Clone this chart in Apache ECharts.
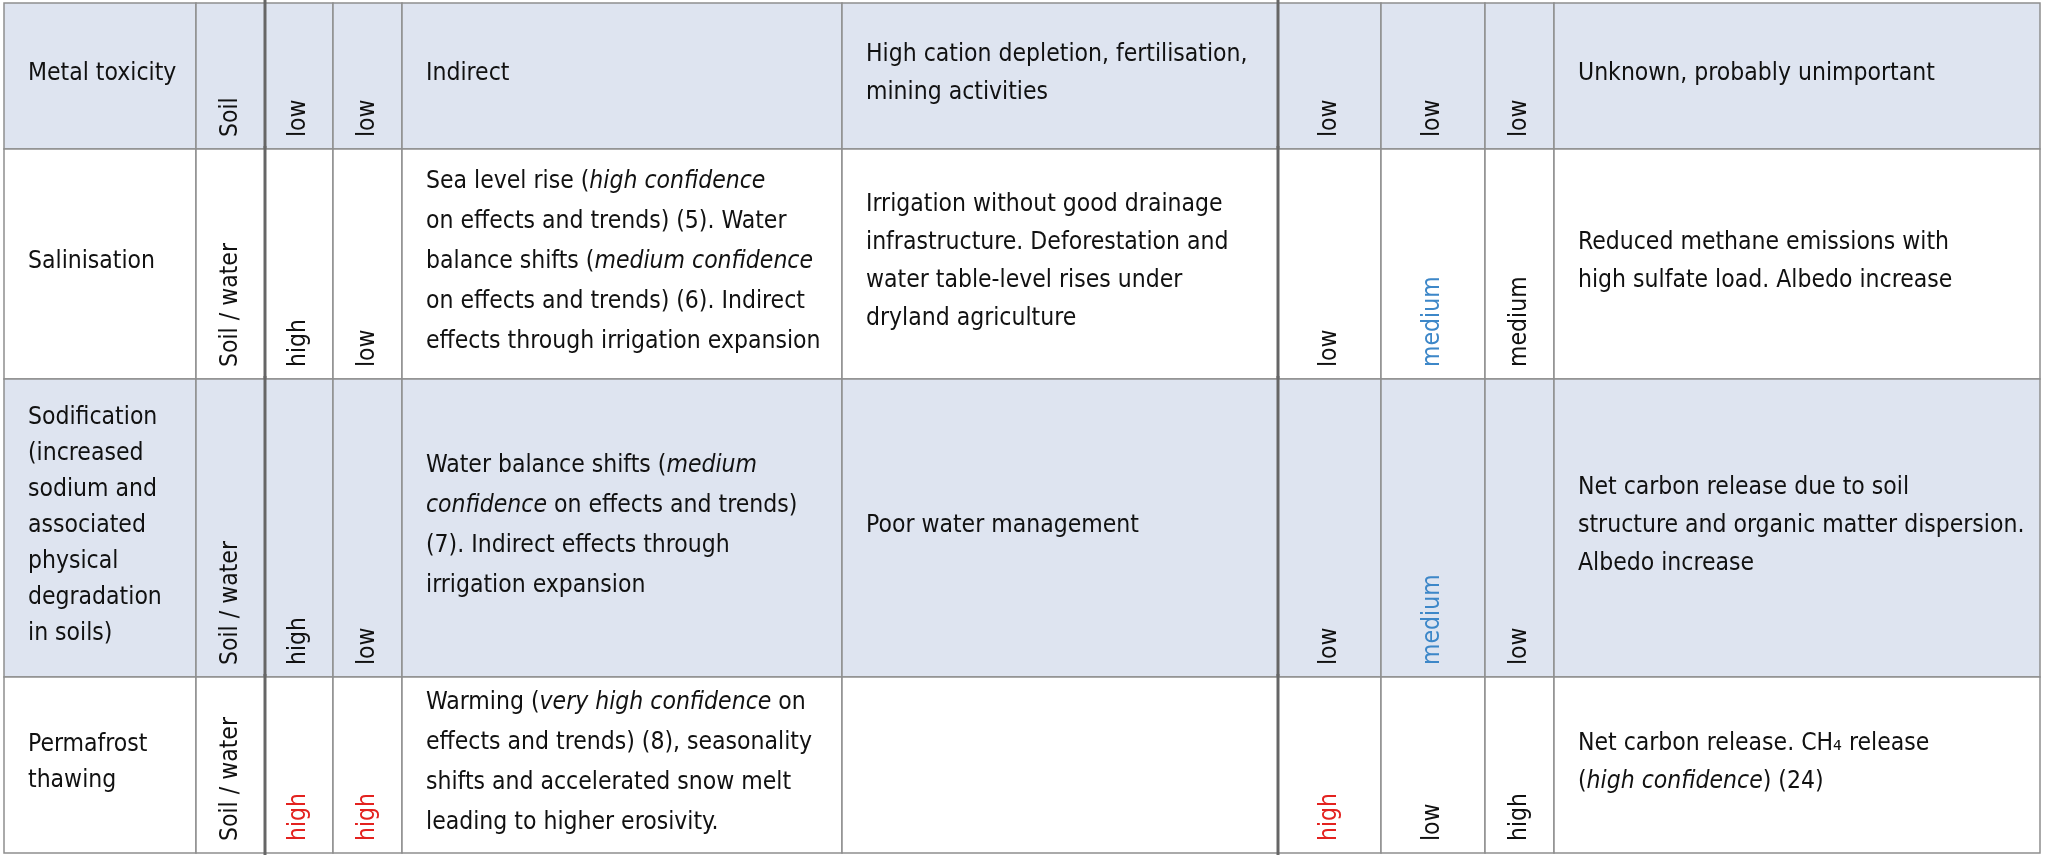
<!DOCTYPE html>
<html><head><meta charset="utf-8">
<script src="https://cdn.jsdelivr.net/npm/echarts@6/dist/echarts.min.js"></script>
<style>html,body{margin:0;padding:0;background:#fff}#c{width:2048px;height:855px}</style>
</head><body><div id="c"></div>
<script>
// ---- data ----
const impacts = ["Metal toxicity", "Salinisation", "Sodification\n(increased\nsodium and\nassociated\nphysical\ndegradation\nin soils)", "Permafrost\nthawing"];
const medium = ["Soil", "Soil / water", "Soil / water", "Soil / water"];
const ratingA = ["low", "high", "high", "high"];
const ratingB = ["low", "low", "low", "high"];
const climateDrivers = [
  "Indirect",
  "Sea level rise ({i|high confidence}\non effects and trends) (5). Water\nbalance shifts ({i|medium confidence}\non effects and trends) (6). Indirect\neffects through irrigation expansion",
  "Water balance shifts ({i|medium}\n{i|confidence} on effects and trends)\n(7). Indirect effects through\nirrigation expansion",
  "Warming ({i|very high confidence} on\neffects and trends) (8), seasonality\nshifts and accelerated snow melt\nleading to higher erosivity."
];
const humanDrivers = [
  "High cation depletion, fertilisation,\nmining activities",
  "Irrigation without good drainage\ninfrastructure. Deforestation and\nwater table-level rises under\ndryland agriculture",
  "Poor water management",
  ""
];
const ratingC = ["low", "low", "low", "high"];
const ratingD = ["low", "medium", "medium", "low"];
const ratingE = ["low", "medium", "low", "high"];
const feedbacks = [
  "Unknown, probably unimportant",
  "Reduced methane emissions with\nhigh sulfate load. Albedo increase",
  "Net carbon release due to soil\nstructure and organic matter dispersion.\nAlbedo increase",
  "Net carbon release. CH₄ release\n({i|high confidence}) (24)"
];
const highlight = {"3-2":"r","3-3":"r","3-6":"r","1-7":"b","2-7":"b"};

// ---- layout ----
const colEdges = [4,196,265,333,402,842,1278,1381,1485,1554,2040];
const rowEdges = [3,149,379,677,853];
const columns = [impacts, medium, ratingA, ratingB, climateDrivers, humanDrivers, ratingC, ratingD, ratingE, feedbacks];
const vertical = [false,true,true,true,false,false,true,true,true,false];
const lineH = [36,0,0,0,40,38,0,0,0,38];
const rowBg = ['#dee4f0','#ffffff','#dee4f0','#ffffff'];
const FONT = "'Liberation Sans Narrow','DejaVu Sans Condensed',sans-serif";
const FS = 24.5;

const cells = [];
for (let r = 0; r < impacts.length; r++) for (let c = 0; c < columns.length; c++) cells.push([c, r]);

function renderItem(params, api) {
  const c = api.value(0), r = api.value(1);
  const p0 = api.coord([colEdges[c], rowEdges[r]]);
  const p1 = api.coord([colEdges[c+1], rowEdges[r+1]]);
  const w = p1[0]-p0[0], h = p1[1]-p0[1];
  const txt = columns[c][r];
  const flag = highlight[r+'-'+c];
  const fill = flag === 'r' ? '#e3221f' : flag === 'b' ? '#3d87c8' : '#111';
  const children = [{
    type:'rect', shape:{x:p0[0],y:p0[1],width:w,height:h},
    style:{fill:rowBg[r], stroke:'#8e8e8e', lineWidth:1.5}
  }];
  if (vertical[c]) {
    children.push({type:'text', x:p0[0]+w/2, y:p1[1]-12, rotation:Math.PI/2,
      style:{text:txt, fill:fill, font:FS+'px '+FONT, align:'left', verticalAlign:'middle'}});
  } else if (txt) {
    const lh = lineH[c];
    children.push({type:'text', x:p0[0]+24, y:p0[1]+h/2-2,
      style:{text:txt, fill:fill, fontSize:FS, fontFamily:FONT, lineHeight:lh,
        align:'left', verticalAlign:'middle',
        rich:{i:{fontStyle:'italic', fontSize:FS, fontFamily:FONT, lineHeight:lh, fill:fill}}}});
  }
  if (c === 2 || c === 6) {
    children.push({type:'line', shape:{x1:p0[0],y1:p0[1]-3,x2:p0[0],y2:p1[1]+3},
      style:{stroke:'#666', lineWidth:3}});
  }
  return {type:'group', children};
}

const chart = echarts.init(document.getElementById('c'));
chart.setOption({
  animation:false,
  grid:{left:0,right:0,top:0,bottom:0},
  xAxis:{type:'value',min:0,max:2048,show:false},
  yAxis:{type:'value',min:0,max:855,inverse:true,show:false},
  series:[{type:'custom', renderItem, data:cells, clip:false}]
});
</script></body></html>
